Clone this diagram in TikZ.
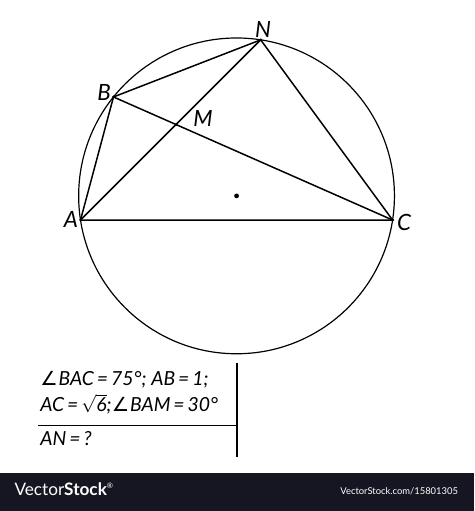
\documentclass[tikz,border=0pt]{standalone}
\usepackage{amsmath}
\usepackage{fontspec}
\setmainfont{Lato}
\newfontfamily\symf{DejaVu Sans}
\usetikzlibrary{calc}
\definecolor{barcol}{RGB}{22,22,34}
\newcommand{\ang}{{\symf\itshape ∠}\kern0.6pt}
\newcommand{\eqs}{\kern2pt=\kern2pt}

\begin{document}
\begin{tikzpicture}[x=3cm,y=3cm]
\useasboundingbox[fill=white] (-0.632,-2.284) rectangle (3.089,1.727);
% points of the figure
\coordinate (A) at (0,0);
\coordinate (C) at (2.4495,0);
\coordinate (B) at (0.2588,0.9659);
\coordinate (N) at (1.4142,1.4142);
\coordinate (M) at (0.7495,0.7495);
\coordinate (O) at (1.2247,0.1895);

\draw[line width=0.8pt] (O) circle (1.2393);
\draw[line width=1pt] (A) -- (C) -- (N) -- (B) -- (A);
\draw[line width=1pt] (B) -- (C);
\draw[line width=1pt] (A) -- (N);
\foreach \p in {A,B,C,N,M} \fill (\p) circle (1pt);
\fill (O) circle (1.6pt);

\node[font=\fontsize{15}{17}\selectfont\itshape] (la) at (-0.075,0.008) {A};
\node[font=\fontsize{15}{17}\selectfont\itshape] (lb) at (0.185,0.998) {B};
\node[font=\fontsize{15}{17}\selectfont\itshape] (lc) at (2.539,-0.02) {C};
\node[font=\fontsize{15}{17}\selectfont\itshape] (ln) at (1.432,1.499) {N};
\node[font=\fontsize{15}{17}\selectfont\itshape] (lm) at (0.961,0.8) {M};

% data of the problem
\node[anchor=base west,font=\fontsize{13}{15}\selectfont\itshape,inner sep=0pt] (d1) at (-0.318,-1.295) {\ang BAC\eqs 75°; AB\eqs 1;};
\node[anchor=base west,font=\fontsize{13}{15}\selectfont\itshape,inner sep=0pt] (d2) at (-0.318,-1.505) {AC\eqs$\sqrt{\mbox{\itshape 6}}$;\ang BAM\eqs 30°};
\node[anchor=base west,font=\fontsize{13}{15}\selectfont\itshape,inner sep=0pt] (q) at (-0.318,-1.766) {AN\eqs ?};
\coordinate (h1) at (-0.334,-1.613);
\coordinate (h2) at (1.226,-1.613);
\coordinate (v1) at (1.226,-1.122);
\coordinate (v2) at (1.226,-1.860);
\draw[line width=1.1pt] (h1) -- (h2);
\draw[line width=1.1pt] (v1) -- (v2);

% bottom bar
\fill[barcol] (-0.632,-2.284) rectangle (3.089,-1.986);
\node[anchor=base west,text=white,inner sep=0pt,font=\fontsize{11.5}{13}\selectfont] (vs) at (-0.52,-2.16) {Vector\textbf{Stock}\textsuperscript{\fontsize{5}{6}\selectfont ®}};
\node[anchor=base east,text=white,inner sep=0pt,font=\fontsize{6.3}{8}\selectfont] (url) at (2.965,-2.155) {VectorStock.com/15801305};
\end{tikzpicture}
\end{document}
